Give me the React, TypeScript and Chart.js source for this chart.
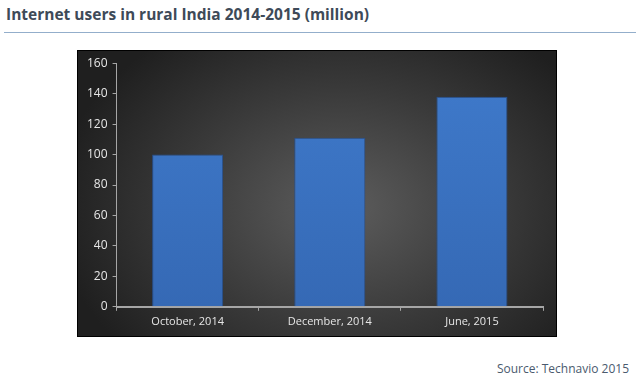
import React, { useEffect, useRef } from "react";
import { Chart, registerables } from "chart.js";

Chart.register(...registerables);

const categories = ["October, 2014", "December, 2014", "June, 2015"];
const users = [100, 111, 138];
const yTicks = [0, 20, 40, 60, 80, 100, 120, 140, 160];

const FONT = "'Open Sans', 'Liberation Sans', sans-serif";

export default function App() {
  const ref = useRef<HTMLCanvasElement | null>(null);

  useEffect(() => {
    if (!ref.current) return;
    const chart = new Chart(ref.current, {
      type: "bar",
      data: {
        labels: categories,
        datasets: [
          {
            data: users,
            backgroundColor: (ctx: any) => {
              const c = ctx.chart.ctx;
              const area = ctx.chart.chartArea;
              if (!area) return "#3a70bf";
              const g = c.createLinearGradient(0, area.top, 0, area.bottom);
              g.addColorStop(0, "#3f7acb");
              g.addColorStop(1, "#3569b5");
              return g;
            },
            borderColor: "#264f8f",
            borderWidth: 1,
            barPercentage: 0.5,
            categoryPercentage: 1,
          },
        ],
      },
      options: {
        responsive: false,
        animation: false,
        layout: { padding: { top: 10, right: 13, left: 4, bottom: 4 } },
        plugins: { legend: { display: false }, tooltip: { enabled: false }, title: { display: false } },
        scales: {
          x: {
            grid: { display: true, drawOnChartArea: false, drawTicks: true, tickLength: 4, color: "#a6a6a6", offset: true },
            border: { color: "#a6a6a6", width: 2 },
            ticks: { color: "#e6e6e6", font: { family: FONT, size: 11 }, padding: 4 },
          },
          y: {
            min: 0,
            max: 160,
            afterBuildTicks: (axis: any) => {
              axis.ticks = yTicks.map((v) => ({ value: v }));
            },
            grid: { display: true, drawOnChartArea: false, drawTicks: true, tickLength: 4, color: "#a6a6a6" },
            border: { color: "#a6a6a6", width: 1 },
            ticks: { color: "#e6e6e6", font: { family: FONT, size: 12 }, padding: 5 },
          },
        },
      },
    });
    return () => chart.destroy();
  }, []);

  return (
    <div style={{ position: "fixed", left: 0, top: 0, width: 636, height: 378, background: "#fff", fontFamily: FONT, overflow: "hidden" }}>
      <div style={{ position: "absolute", left: 6, top: 3, fontSize: 15.5, fontWeight: 700, color: "#3e4a58", whiteSpace: "nowrap" }}>
        Internet users in rural India 2014-2015 (million)
      </div>
      <div style={{ position: "absolute", left: 4, top: 32, width: 632, height: 1, background: "#93aecb" }} />
      <div
        style={{
          position: "absolute",
          left: 77,
          top: 50,
          width: 480,
          height: 287,
          boxSizing: "border-box",
          border: "1px solid #000",
          background: "radial-gradient(ellipse 60% 75% at 55% 55%, #5d5d5d 0%, #3a3a3a 55%, #1f1f1f 100%)",
        }}
      >
        <canvas ref={ref} width={478} height={285} style={{ display: "block" }} />
      </div>
      <div style={{ position: "absolute", right: 7, top: 360, fontSize: 12, color: "#4a5a6e", whiteSpace: "nowrap" }}>
        Source: Technavio 2015
      </div>
    </div>
  );
}
